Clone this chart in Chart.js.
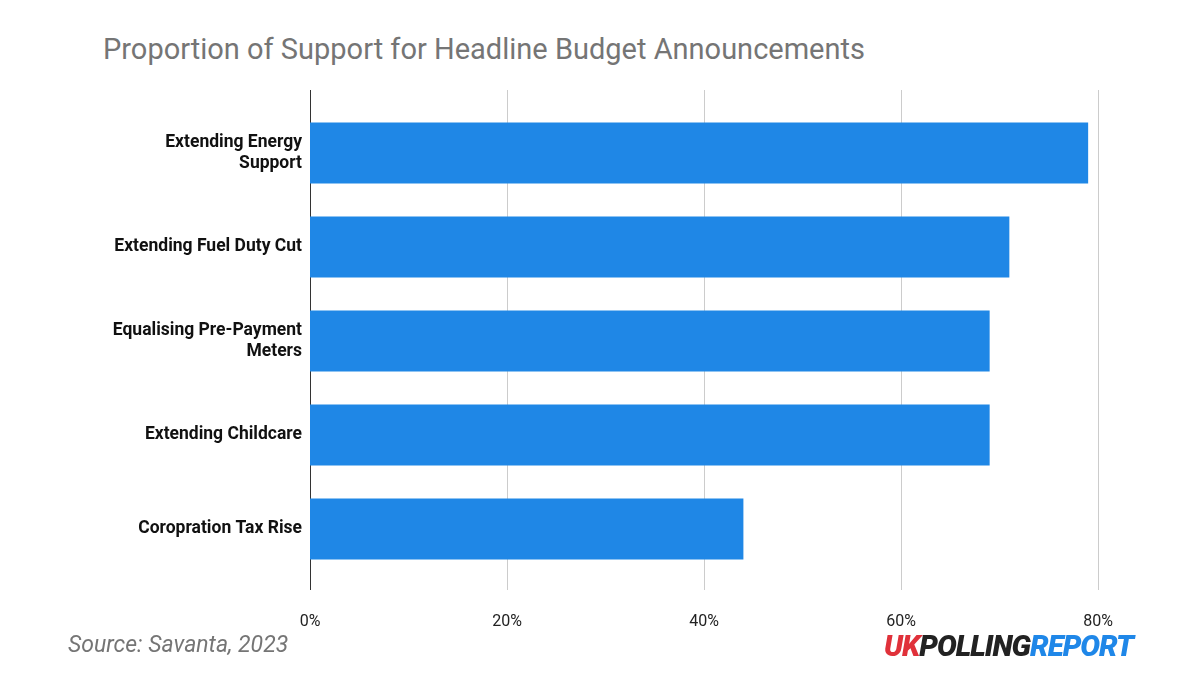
<!DOCTYPE html>
<html><head><meta charset="utf-8">
<script src="https://cdn.jsdelivr.net/npm/chart.js@4/dist/chart.umd.min.js"></script>
<style>
body{margin:0;width:1200px;height:675px;background:#fff;font-family:Roboto,sans-serif;position:relative;overflow:hidden}
#t{position:absolute;left:103px;top:32px;font-size:29px;color:#757575}
#s{position:absolute;left:68px;top:631px;font-size:23px;color:#757575;font-style:italic}
#l{position:absolute;left:884px;top:629px;font-size:29.5px;font-weight:900;font-style:italic;letter-spacing:-1px}
#w{position:absolute;left:0;top:80px;width:1200px;height:560px}
</style></head><body>
<div id="t">Proportion of Support for Headline Budget Announcements</div>
<div id="w"><canvas id="c"></canvas></div>
<div id="s">Source: Savanta, 2023</div>
<div id="l"><span style="color:#e0313a">UK</span><span style="color:#222">POLLING</span><span style="color:#1f87e8">REPORT</span></div>
<script>
const categories=[["Extending Energy","Support"],"Extending Fuel Duty Cut",["Equalising Pre-Payment","Meters"],"Extending Childcare","Coropration Tax Rise"];
const support=[79,71,69,69,44];
const ticks=[0,20,40,60,80];
const ext={id:'ext',beforeDatasetsDraw(c){const y=c.scales.y,x=c.scales.x,g=c.ctx;g.save();g.strokeStyle='#ccc';g.lineWidth=1;
 ticks.slice(1).forEach(v=>{const px=Math.round(x.getPixelForValue(v))+0.5;g.beginPath();g.moveTo(px,y.top-16);g.lineTo(px,y.bottom+14);g.stroke();});
 g.strokeStyle='#333';g.beginPath();g.moveTo(x.left+0.5,y.top-16);g.lineTo(x.left+0.5,y.bottom+14);g.stroke();g.restore();}};
new Chart(document.getElementById('c'),{type:'bar',plugins:[ext],
data:{labels:categories,datasets:[{data:support,backgroundColor:'#1f87e6',barPercentage:0.65,categoryPercentage:1}]},
options:{indexAxis:'y',responsive:true,maintainAspectRatio:false,animation:false,
layout:{padding:{left:10,right:102,top:26,bottom:0}},
plugins:{legend:{display:false},tooltip:{enabled:false}},
scales:{
x:{min:0,max:80,afterBuildTicks:a=>{a.ticks=ticks.map(v=>({value:v}))},
 afterFit:a=>{a.height=64},
 grid:{display:false},border:{display:false},
 ticks:{callback:v=>v+'%',font:{family:'Roboto',size:16},color:'#222',padding:28}},
y:{grid:{display:false},border:{display:false},afterFit:a=>{a.width=300},
 ticks:{font:{family:'Roboto',size:17.5,weight:'bold'},color:'#111',padding:0}}
}}});
</script></body></html>
